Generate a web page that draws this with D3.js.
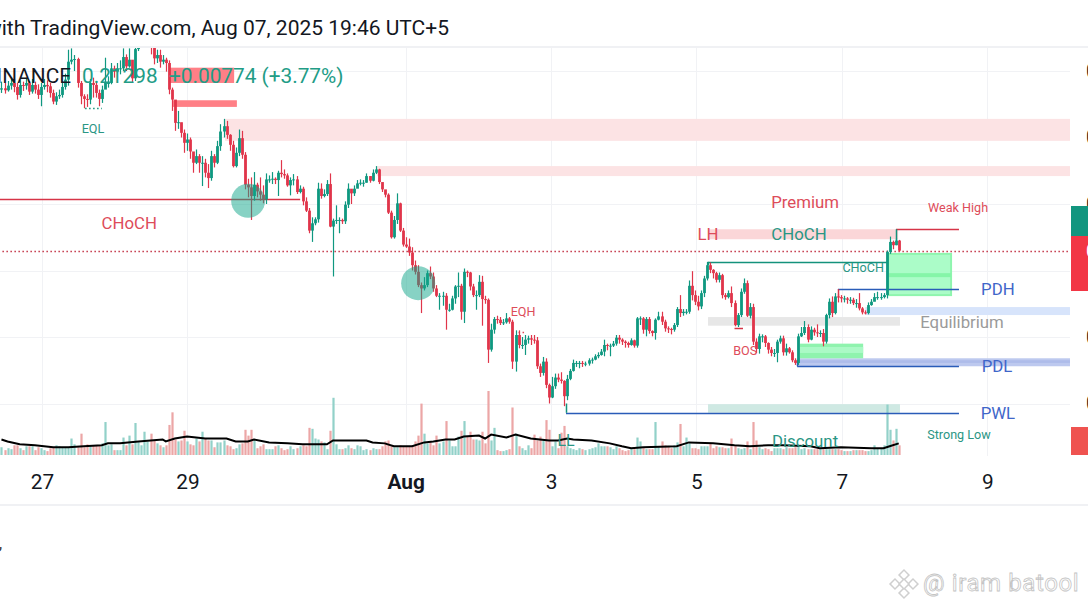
<!DOCTYPE html>
<html>
<head>
<meta charset="utf-8">
<script src="https://cdn.jsdelivr.net/npm/d3@7"></script>
<style>
  html, body { margin: 0; background: #fff; overflow: hidden; }
  svg { display: block; font-family: Roboto, sans-serif; }
</style>
</head>
<body>
<div id="chart"></div>
<script>
// Hourly candles, prices kept in ticks of 0.0001
const tickSize = 0.0001;
const firstOpen = 2372;
const closeTicks = [
  2374,2371,2378,2382,2376,2364,2379,2378,2382,2369,2379,2372,2364,2376,2379,2377,2367,2354,2362,2364,
  2376,2387,2414,2417,2418,2382,2362,2358,2357,2382,2379,2367,2358,2372,2382,2382,2404,2399,2404,2404,
  2421,2407,2417,2389,2433,2442,2452,2457,2459,2447,2419,2424,2414,2417,2412,2372,2357,2322,2323,2307,
  2292,2297,2279,2262,2272,2262,2262,2247,2239,2272,2262,2287,2309,2317,2304,2289,2257,2277,2299,2274,
  2229,2225,2212,2229,2219,2214,2207,2237,2237,2238,2236,2247,2245,2243,2228,2236,2237,2218,2223,2204,
  2190,2160,2171,2177,2223,2212,2215,2230,2166,2175,2176,2176,2174,2199,2223,2216,2223,2231,2232,2232,
  2242,2235,2247,2252,2233,2222,2214,2187,2150,2176,2201,2160,2139,2136,2127,2108,2098,2078,2073,2078,
  2096,2091,2073,2062,2062,2062,2041,2041,2058,2076,2077,2038,2098,2097,2076,2063,2063,2083,2057,2056,
  1981,2011,2027,2026,2021,2022,2028,2023,1963,2003,1988,1988,1996,1998,1996,1995,1956,1946,1963,1928,
  1909,1926,1939,1936,1934,1911,1937,1949,1961,1961,1961,1960,1960,1965,1966,1971,1973,1978,1988,1987,
  1987,1990,1999,1996,1993,1991,1988,1995,1987,2028,2028,2011,2027,2009,2006,2026,2031,2023,2013,2012,
  2011,2018,2042,2036,2038,2038,2077,2063,2053,2046,2066,2088,2108,2101,2096,2086,2093,2063,2060,2066,
  2051,2018,2033,2068,2081,2032,2045,1993,1982,2001,2001,1991,1981,1976,1976,1993,1998,1977,1983,1977,
  1965,1961,2001,2006,2015,1996,2011,2007,2006,2006,1993,2033,2053,2036,2061,2060,2058,2058,2056,2056,
  2051,2051,2043,2037,2036,2048,2053,2060,2060,2060,2063,2128,2143,2138,2145,2129.8
];
const highTicks = [
  2384,2382,2385,2390,2388,2382,2386,2384,2388,2385,2388,2384,2380,2382,2388,2386,2382,2372,2368,2372,
  2384,2396,2432,2434,2424,2420,2385,2365,2365,2388,2390,2385,2372,2378,2420,2392,2412,2408,2412,2416,
  2434,2425,2434,2398,2445,2450,2458,2464,2466,2460,2434,2432,2432,2424,2420,2416,2375,2345,2340,2322,
  2312,2306,2300,2275,2282,2275,2272,2268,2260,2280,2275,2295,2320,2328,2325,2305,2295,2285,2312,2310,
  2278,2238,2240,2248,2232,2240,2228,2246,2243,2248,2240,2250,2266,2252,2246,2240,2245,2242,2228,2226,
  2210,2194,2180,2180,2232,2231,2222,2236,2246,2178,2198,2180,2178,2204,2231,2222,2228,2236,2237,2236,
  2246,2242,2252,2257,2253,2226,2220,2216,2190,2182,2216,2202,2164,2150,2148,2135,2115,2108,2082,2090,
  2100,2106,2097,2078,2066,2068,2066,2050,2062,2078,2097,2080,2103,2100,2098,2080,2070,2093,2092,2062,
  2058,2020,2030,2032,2030,2027,2036,2030,2026,2010,2010,2000,2003,2002,2003,2003,2000,1960,1970,1968,
  1930,1940,1945,1945,1947,1935,1943,1952,1966,1964,1964,1964,1963,1968,1969,1974,1977,1982,1996,1990,
  1990,1994,2003,2003,1998,1995,1993,1998,1996,2030,2031,2030,2030,2030,2010,2028,2038,2038,2026,2016,
  2014,2021,2045,2063,2042,2042,2085,2099,2070,2062,2070,2092,2113,2112,2102,2098,2097,2095,2066,2070,
  2076,2055,2036,2073,2088,2085,2051,2050,1998,2005,2004,2003,1992,1985,1982,1996,2002,2002,1990,1985,
  1980,1968,2005,2015,2024,2019,2016,2014,2019,2010,2012,2035,2058,2061,2066,2065,2063,2062,2060,2060,
  2059,2057,2066,2045,2040,2052,2057,2066,2068,2066,2066,2130,2151,2145,2148,2146
];
const lowTicks = [
  2367,2366,2369,2372,2368,2357,2360,2370,2372,2364,2366,2366,2358,2347,2372,2368,2360,2350,2349,2358,
  2360,2372,2378,2410,2400,2375,2350,2344,2346,2350,2360,2360,2347,2352,2375,2375,2380,2390,2397,2395,
  2400,2400,2405,2382,2385,2430,2440,2448,2450,2425,2410,2412,2405,2410,2399,2365,2340,2310,2313,2300,
  2277,2280,2268,2247,2260,2247,2227,2240,2224,2235,2255,2260,2280,2300,2298,2280,2255,2255,2272,2268,
  2222,2210,2176,2205,2210,2205,2201,2200,2232,2230,2230,2212,2240,2238,2226,2213,2228,2215,2216,2198,
  2188,2156,2143,2168,2172,2208,2210,2212,2165,2091,2170,2156,2170,2170,2194,2200,2212,2225,2228,2226,
  2232,2232,2234,2245,2230,2218,2210,2185,2148,2148,2170,2158,2136,2134,2122,2100,2094,2075,2036,2070,
  2075,2087,2068,2060,2041,2047,2011,2038,2040,2050,2060,2026,2021,2090,2070,2060,2041,2060,2017,2050,
  1961,1978,2005,2020,2018,2018,2020,2020,1952,1948,1983,1982,1973,1990,1988,1990,1952,1940,1942,1923,
  1900,1908,1922,1932,1930,1896,1905,1935,1948,1955,1953,1955,1956,1957,1960,1965,1968,1972,1971,1980,
  1971,1985,1987,1990,1988,1984,1984,1987,1984,1984,2018,2005,2001,2005,2001,1996,2025,2018,2008,2006,
  2004,2008,2015,2030,2032,2034,2035,2055,2048,2040,2042,2060,2085,2096,2088,2082,2082,2058,2056,2058,
  2045,2016,2015,2030,2065,2030,2028,1988,1976,1975,1992,1985,1975,1971,1970,1962,1990,1972,1972,1975,
  1962,1958,1958,2000,2003,1992,1995,2002,2000,2000,1986,1990,2028,2030,2034,2052,2052,2052,2050,2050,
  2048,2044,2040,2034,2034,2034,2047,2054,2056,2056,2058,2058,2125,2132,2138,2128
];
// Volume per candle
const volumes = [
  8,5,7,6,10,10,7,5,9,9,9,5,8,7,5,4,7,8,10,9,8,8,8,17,11,8,22,8,11,10,
  10,10,10,12,34,10,11,5,5,5,18,10,20,11,33,14,10,24,14,22,15,12,10,8,10,31,44,16,14,15,
  25,14,11,10,17,14,24,17,15,15,8,13,13,15,10,9,6,7,11,12,26,20,26,15,7,9,11,6,6,6,
  9,10,7,5,6,9,6,7,9,10,9,28,27,17,16,14,13,6,25,59,11,6,6,7,10,7,6,10,9,5,
  6,5,7,6,6,9,14,15,9,8,8,10,9,9,9,10,14,20,53,22,12,13,10,20,12,14,35,15,9,9,
  19,25,35,19,24,16,16,15,24,12,66,15,28,5,4,4,5,6,49,22,9,7,5,10,7,21,15,
  19,15,36,26,9,14,7,23,30,9,7,6,5,7,6,5,6,7,8,12,9,9,9,8,6,9,7,5,4,5,
  6,6,18,14,7,6,6,6,34,9,14,10,9,7,10,13,32,9,18,12,7,7,6,9,9,9,12,7,9,8,
  8,7,7,17,10,7,6,7,14,6,34,15,8,6,7,6,4,7,7,7,6,8,7,7,8,9,6,7,6,6,
  6,6,6,6,6,6,6,6,6,5,4,4,4,5,5,5,5,4,4,5,10,7,7,10,52,26,15,27,10
];
// Volume moving average, read at the bars where it bends
const maBars = [0,2,6,11,17,22,27,33,35,39,45,49,53,54,57,61,64,67,74,77,81,83,88,94,99,104,107,109,113,120,122,126,129,135,139,142,146,149,152,157,159,161,166,169,174,177,180,183,186,188,194,200,204,207,211,222,226,234,241,246,252,257,266,269,276,286,290,292,295];
const maValues = [16,14,11,10,8,8,9,10,12,12,14,15,16,14,17,19,18,17,17,14,14,16,13,12,11,11,11,15,15,15,13,12,9,9,13,14,16,16,19,20,17,21,18,21,17,16,15,15,17,16,15,12,9,7,8,9,13,12,10,9,10,10,9,7,8,7,7,9,12];

// Time axis
const dayTicks = [[6,27],[6,29],[7,1],[7,3],[7,5],[7,7],[7,9]].map(d => new Date(Date.UTC(2025, d[0], d[1])));
const dayLabels = ["27", "29", "Aug", "3", "5", "7", "9"];
const gridPrices = [0.19, 0.20, 0.21, 0.22, 0.23, 0.24];
const axisPrices = [0.19, 0.20, 0.22, 0.23, 0.24];
const lastPrice = 0.21298;

// Zones in bars and prices
const zoneNames = ["block","block","supply","supply","lh","equilibrium","discount","paleBlue","pdl","pdlInner","fvg","fvgInner","fvg2","fvg2Inner"];
const zoneFrom = [55.4,56.4,73.5,123.5,232.3,232.3,232.3,284,261.6,261.6,291.5,291.5,262.5,262.5];
const zoneTo = [76.5,77.4,351.3,351.3,294.8,295.4,295.4,351.3,351.3,351.3,312.2,312.2,283.3,283.3];
const zoneTop = [0.2405,0.2356,0.2328,0.2257,0.2162,0.2030,0.1899,0.2045,0.1968,0.1965,0.2125,0.2096,0.1990,0.1985];
const zoneBottom = [0.2382,0.2346,0.2295,0.2242,0.2147,0.2017,0.1886,0.2033,0.1956,0.1961,0.2063,0.2090,0.1968,0.1976];

// Structure lines
const lineNames = ["red","dotted","teal","blue","red","blue","blue","red","eql","eqh"];
const lineFrom = [-1,-1,232.3,275,294.1,261.6,185.6,241,27.5,170];
const lineTo = [98.2,351.3,291.1,314.8,314.8,314.8,314.8,243.8,33,172];
const linePrice = [0.2208,lastPrice,0.2113,0.2072,0.2162,0.1956,0.1886,0.2014,0.2344,0.2007];
const stubBar = [185.6,294.1,275,261.6,232.3];
const stubTop = [0.1900,0.2162,0.2072,0.1966,0.2113];
const stubBottom = [0.1886,0.2141,0.2059,0.1956,0.2108];
const stubNames = ["teal","teal","red","blue","teal"];

// Liquidity sweep markers
const sweepBars = [81.1, 137];
const sweepPrices = [0.2205, 0.2081];

// Labels
const labelTexts = ["EQL","CHoCH","EQH","Premium","LH","CHoCH","CHoCH","BOS","Weak High","PDH","Equilibrium","PDL","PWL","Strong Low","Discount","LL"];
const labelBars = [30.1,42,171.5,264.2,232.3,262.2,283.3,244.5,314.5,327.6,315.8,327.3,327.6,314.8,264.2,185.6];
const labelPrices = [0.2314,0.2171,0.2038,0.2203,0.2155,0.2155,0.2104,0.1980,0.2194,0.2072,0.2023,0.1956,0.1886,0.1854,0.1844,0.1844];
const labelSizes = [12.6,16.8,12.6,16.8,16.8,16.8,12.6,12.6,12.6,16.8,16.8,16.8,16.8,12.6,16.8,16];
const labelColors = ["teal","red","red","red","red","teal","teal","red","red","blue","grey","blue","blue","teal","teal","teal"];

const width = 1088;
const height = 610;
const paneTop = 48;
const paneRight = 1070;
const paneBottom = 455;

const green = "#0f9880";
const red = "#e0354a";
const tealText = "#229c86";
const colors = { teal: "#2a9684", red: "#dd4c5a", blue: "#3f66c9", grey: "#9a9a9a" };
const lineColors = { teal: "#14927c", red: "#d63447", blue: "#2a5cb8", dotted: "#c4384a", eql: "#14927c", eqh: "#dd4c5a" };
const zoneFill = {
  block: "#ff7f86", supply: "#fce3e4", lh: "#fbd6d8", equilibrium: "#e7e7e7", discount: "#cfe9e3",
  paleBlue: "#d7e4fb", pdl: "#bdc9ef", pdlInner: "#aebcea",
  fvg: "#abfcc8", fvgInner: "#85f5a8", fvg2: "#8ff3ae", fvg2Inner: "#abf9c6"
};

// Bars sit on their own index scale, the day ticks on a time scale
const xBar = d3.scaleLinear().domain([0, 295]).range([1.46, 898.75]);
const xDay = d3.scaleUtc().domain([dayTicks[0], dayTicks[6]]).range([42, 987.3]);
const y = d3.scaleLinear().domain([0.19, 0.24]).range([403.5, 71]);
const yVolume = d3.scaleLinear().domain([0, 66]).range([paneBottom, paneBottom - 64]);
const snap = v => Math.round(v) + 0.5;

const bars = closeTicks.map((c, i) => ({
  index: i,
  open: (i === 0 ? firstOpen : closeTicks[i - 1]) * tickSize,
  close: c * tickSize,
  high: highTicks[i] * tickSize,
  low: lowTicks[i] * tickSize,
  volume: volumes[i]
}));

const svg = d3.select("#chart").append("svg")
  .attr("width", width)
  .attr("height", height)
  .attr("viewBox", [0, 0, width, height]);

svg.append("defs").append("clipPath").attr("id", "pane")
  .append("rect").attr("x", 0).attr("y", paneTop).attr("width", paneRight).attr("height", paneBottom - paneTop);

// Frame lines
svg.append("g").attr("stroke", "#f0f1f4").attr("stroke-width", 2)
  .selectAll("line").data([paneTop - 1, 505]).join("line")
  .attr("x1", 0).attr("x2", width).attr("y1", d => d).attr("y2", d => d);

// Grid
svg.append("g").attr("stroke", "#f1f2f5")
  .selectAll("line").data(gridPrices).join("line")
  .attr("x1", 0).attr("x2", paneRight).attr("y1", d => snap(y(d))).attr("y2", d => snap(y(d)));
svg.append("g").attr("stroke", "#f1f2f5")
  .selectAll("line").data(dayTicks).join("line")
  .attr("x1", d => snap(xDay(d))).attr("x2", d => snap(xDay(d))).attr("y1", paneTop).attr("y2", paneBottom + 1);

const pane = svg.append("g").attr("clip-path", "url(#pane)");

// Zones
pane.append("g").selectAll("rect").data(zoneNames).join("rect")
  .attr("x", (d, i) => xBar(zoneFrom[i]))
  .attr("y", (d, i) => y(zoneTop[i]))
  .attr("width", (d, i) => xBar(zoneTo[i]) - xBar(zoneFrom[i]))
  .attr("height", (d, i) => y(zoneBottom[i]) - y(zoneTop[i]))
  .attr("fill", d => zoneFill[d])
  .attr("stroke", d => d === "fvg" ? "#8ff5ae" : "none")
  .attr("stroke-width", 2);

// Volume bars
pane.append("g").selectAll("rect").data(bars).join("rect")
  .attr("x", d => Math.round(xBar(d.index)) - 0.6)
  .attr("y", d => yVolume(d.volume))
  .attr("width", 2.2)
  .attr("height", d => yVolume(0) - yVolume(d.volume))
  .attr("fill", d => d.close < d.open ? "#eca6a6" : "#92d1c9");

// Volume average
pane.append("path")
  .datum(maBars)
  .attr("fill", "none")
  .attr("stroke", "#000")
  .attr("stroke-width", 2)
  .attr("d", d3.line().x(d => xBar(d)).y((d, i) => yVolume(maValues[i])));

// Structure lines
pane.append("g").selectAll("line").data(lineNames).join("line")
  .attr("x1", (d, i) => xBar(lineFrom[i]))
  .attr("x2", (d, i) => xBar(lineTo[i]))
  .attr("y1", (d, i) => snap(y(linePrice[i])))
  .attr("y2", (d, i) => snap(y(linePrice[i])))
  .attr("stroke", d => lineColors[d])
  .attr("stroke-width", 1.5)
  .attr("stroke-dasharray", d => d === "dotted" || d === "eql" || d === "eqh" ? "1.5 2.5" : null);
pane.append("g").selectAll("line").data(stubNames).join("line")
  .attr("x1", (d, i) => snap(xBar(stubBar[i])))
  .attr("x2", (d, i) => snap(xBar(stubBar[i])))
  .attr("y1", (d, i) => y(stubTop[i]))
  .attr("y2", (d, i) => y(stubBottom[i]))
  .attr("stroke", d => lineColors[d])
  .attr("stroke-width", 1.5);

// Candles
const candle = pane.append("g").selectAll("g").data(bars).join("g")
  .attr("fill", d => d.close < d.open ? red : green)
  .attr("stroke", d => d.close < d.open ? red : green);
candle.append("line")
  .attr("stroke-width", 1.2)
  .attr("x1", d => snap(xBar(d.index))).attr("x2", d => snap(xBar(d.index)))
  .attr("y1", d => y(d.high)).attr("y2", d => y(d.low));
candle.append("rect")
  .attr("stroke", "none")
  .attr("x", d => snap(xBar(d.index)) - 1.4)
  .attr("width", 2.8)
  .attr("y", d => y(Math.max(d.open, d.close)))
  .attr("height", d => Math.max(1, Math.abs(y(d.open) - y(d.close))));

// Sweep circles
pane.append("g").selectAll("circle").data(sweepBars).join("circle")
  .attr("cx", d => xBar(d))
  .attr("cy", (d, i) => y(sweepPrices[i]))
  .attr("r", 17)
  .attr("fill", "#10a58a")
  .attr("fill-opacity", 0.5);

// Annotation labels
svg.append("g").attr("text-anchor", "middle")
  .selectAll("text").data(labelTexts).join("text")
  .attr("x", (d, i) => xBar(labelBars[i]))
  .attr("y", (d, i) => y(labelPrices[i]))
  .attr("dy", "0.35em")
  .attr("font-size", (d, i) => labelSizes[i])
  .attr("fill", (d, i) => colors[labelColors[i]])
  .text(d => d);

// Date axis
const xAxis = svg.append("g")
  .attr("transform", `translate(0,${paneBottom})`)
  .call(d3.axisBottom(xDay).tickValues(dayTicks).tickSize(0).tickPadding(19)
    .tickFormat((d, i) => dayLabels[i]));
xAxis.select(".domain").remove();
xAxis.selectAll("text")
  .attr("font-family", "Roboto, sans-serif")
  .attr("font-size", 20.8)
  .attr("font-weight", (d, i) => dayLabels[i] === "Aug" ? 700 : 400)
  .attr("fill", "#131722");

// Price axis, almost all of it beyond the window edge
const yAxis = svg.append("g")
  .attr("transform", "translate(1086,0)")
  .call(d3.axisRight(y).tickValues(axisPrices).tickSize(0).tickPadding(0).tickFormat(d3.format(".3f")));
yAxis.select(".domain").remove();
yAxis.selectAll("text")
  .attr("font-family", "Roboto, sans-serif")
  .attr("font-size", 20)
  .attr("fill", "#131722");

// Price tags
svg.append("rect").attr("x", paneRight + 1).attr("y", 206).attr("width", 17).attr("height", 30).attr("fill", "#12967f");
svg.append("rect").attr("x", paneRight + 1).attr("y", 236).attr("width", 17).attr("height", 55).attr("fill", "#f23645");
svg.append("rect").attr("x", paneRight + 1).attr("y", 427).attr("width", 17).attr("height", 28).attr("fill", "#ef5350");
svg.append("text").attr("x", 1086).attr("y", 257).attr("fill", "#fff").attr("font-size", 18).text(lastPrice.toFixed(5));

// Header and legend
svg.append("text").attr("x", 449).attr("y", 35).attr("text-anchor", "end")
  .attr("font-size", 21).attr("fill", "#131722")
  .text("Published with TradingView.com, Aug 07, 2025 19:46 UTC+5");
svg.append("text").attr("x", 71).attr("y", 83).attr("text-anchor", "end")
  .attr("font-size", 20.8).attr("fill", "#131722").text("BINANCE");
svg.append("text").attr("x", 82).attr("y", 83)
  .attr("font-size", 20.8).attr("fill", tealText).text("0.21298");
svg.append("text").attr("x", 169).attr("y", 83)
  .attr("font-size", 20.8).attr("fill", tealText).text("+0.00774 (+3.77%)");
svg.append("text").attr("x", -1).attr("y", 549)
  .attr("font-size", 16).attr("fill", "#333").text(",");

// Watermark
const mark = svg.append("g").attr("transform", "translate(904,584)")
  .attr("fill", "#fff").attr("stroke", "#cfcfcf").attr("stroke-width", 1.5);
mark.selectAll("rect").data([[0, -9], [-9, 0], [9, 0], [0, 9], [0, 0]]).join("rect")
  .attr("x", -3.5).attr("y", -3.5).attr("width", 7).attr("height", 7)
  .attr("transform", d => `translate(${d[0]},${d[1]}) rotate(45)`);
svg.append("text").attr("x", 923).attr("y", 591)
  .attr("font-size", 24).attr("letter-spacing", 0.6)
  .attr("fill", "#fff").attr("stroke", "#c4c4c4").attr("stroke-width", 0.8)
  .text("@ iram batool");
</script>
</body>
</html>
